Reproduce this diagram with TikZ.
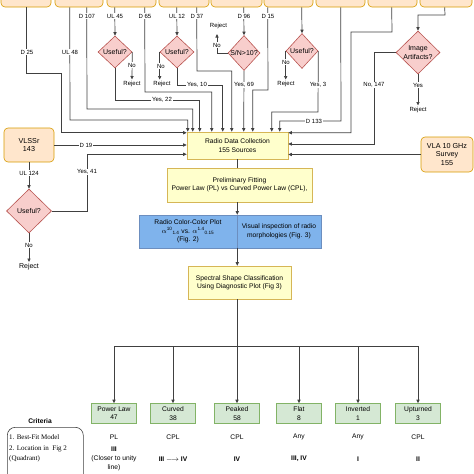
\documentclass[tikz,border=0pt]{standalone}
\usepackage{fontspec}
\setmainfont{Liberation Sans}
\newfontfamily\critfont{Liberation Serif}
\usetikzlibrary{shapes.geometric,arrows.meta}

\definecolor{orfill}{HTML}{FFE6CC}
\definecolor{ordraw}{HTML}{D79B00}
\definecolor{pkfill}{HTML}{F8CECC}
\definecolor{pkdraw}{HTML}{B85450}
\definecolor{ylfill}{HTML}{FFFFCC}
\definecolor{yldraw}{HTML}{D6B656}
\definecolor{blfill}{HTML}{7FB3EC}
\definecolor{bldraw}{HTML}{6C8EBF}
\definecolor{grfill}{HTML}{D5E8D4}
\definecolor{grdraw}{HTML}{82B366}
\definecolor{lncol}{HTML}{404040}

\begin{document}
\begin{tikzpicture}[x=1pt,y=-1pt,
  conn/.style={draw=lncol, line width=0.7pt},
  arr/.style={conn, -{Triangle[length=3.5pt,width=3.2pt]}},
  obox/.style={draw=ordraw, fill=orfill, rounded corners=4pt, line width=0.6pt, minimum height=27pt, inner sep=0pt},
  ovbox/.style={draw=ordraw, fill=orfill, rounded corners=4pt, line width=0.6pt, inner sep=0pt, align=center, font=\fontsize{7.2}{8.7}\selectfont},
  dia/.style={diamond, draw=pkdraw, fill=pkfill, line width=0.6pt, inner sep=0pt},
  dtext/.style={font=\fontsize{7}{8.5}\selectfont, align=center, inner sep=0pt},
  ybox/.style={draw=yldraw, fill=ylfill, line width=0.6pt, inner sep=0pt, align=center, font=\fontsize{6.7}{8.3}\selectfont},
  bbox/.style={draw=bldraw, fill=blfill, line width=0.6pt, inner sep=0pt, align=center, font=\fontsize{6.7}{8.5}\selectfont},
  gbox/.style={draw=grdraw, fill=grfill, line width=0.6pt, inner sep=0pt, align=center, minimum width=45pt, minimum height=20pt, font=\fontsize{6.7}{8.3}\selectfont},
  lbl/.style={fill=white, inner sep=0.8pt, font=\fontsize{6}{7}\selectfont},
  rej/.style={inner sep=1.5pt, font=\fontsize{6}{7}\selectfont},
  ctext/.style={inner sep=0pt, align=center, font=\fontsize{6.7}{9}\selectfont}
]
\useasboundingbox (0,0) rectangle (474,474);
\clip (0,0) rectangle (474,474);

% top source boxes (cut off by the top edge)
\node[obox, minimum width=50pt] (t1) at (26,-6.5) {};
\node[obox, minimum width=48pt] (t2) at (79,-6.5) {};
\node[obox, minimum width=49pt] (t3) at (131.5,-6.5) {};
\node[obox, minimum width=50pt] (t4) at (184,-6.5) {};
\node[obox, minimum width=51pt] (t5) at (236.5,-6.5) {};
\node[obox, minimum width=49pt] (t6) at (288.5,-6.5) {};
\node[obox, minimum width=49pt] (t7) at (340.5,-6.5) {};
\node[obox, minimum width=49pt] (t8) at (392.5,-6.5) {};
\node[obox, minimum width=52pt] (t9) at (446,-6.5) {};

% main boxes
\node[ybox, minimum width=101pt, minimum height=27pt] (rdc) at (237.5,145.5) {Radio Data Collection\\155 Sources};
\node[ovbox, minimum width=50pt, minimum height=34pt] (vlssr) at (29,145) {VLSSr\\143};
\node[ovbox, minimum width=52pt, minimum height=35pt] (vla) at (447,154.5) {VLA 10 GHz\\Survey\\155};
\node[ybox, minimum width=145pt, minimum height=34pt] (prelim) at (239.5,185) {Preliminary Fitting\\Power Law (PL) vs Curved Power Law (CPL),};
\node[bbox, minimum width=98pt, minimum height=33pt] (b1) at (188,231.5) {Radio Color-Color Plot\\$\alpha$\textsuperscript{10}\textsubscript{1.4} vs. $\alpha$\textsuperscript{1.4}\textsubscript{0.15}\\(Fig. 2)};
\node[bbox, minimum width=84pt, minimum height=33pt] (b2) at (279,231.5) {Visual inspection of radio\\morphologies (Fig. 3)};
\node[ybox, minimum width=103pt, minimum height=33pt] (spec) at (239.5,282.5) {Spectral Shape Classification\\Using Diagnostic Plot (Fig 3)};

% diamonds
\node[dia, minimum width=34pt, minimum height=32pt] (d1) at (115,52) {};
\node[dtext] (d1t) at (d1) {Useful?};
\node[dia, minimum width=34pt, minimum height=32pt] (d2) at (177,52) {};
\node[dtext] (d2t) at (d2) {Useful?};
\node[dia, minimum width=32pt, minimum height=35pt] (d3) at (244,53) {};
\node[dtext] (d3t) at (d3) {S/N>10?};
\node[dia, minimum width=32pt, minimum height=35pt] (d4) at (302,51) {};
\node[dtext] (d4t) at (d4) {Useful?};
\node[dia, minimum width=44pt, minimum height=43pt] (d5) at (418,52.5) {};
\node[dtext] (d5t) at (d5) {Image\\Artifacts?};
\node[dia, minimum width=45pt, minimum height=44pt] (d6) at (29,211) {};
\node[dtext] (d6t) at (d6) {Useful?};

% reject nodes
\node[rej] (rj1) at (132,84) {Reject};
\node[rej] (rj2) at (162,84) {Reject};
\node[rej] (rj3) at (218.5,26) {Reject};
\node[rej] (rj4) at (286,84) {Reject};
\node[rej] (rj5) at (418,110) {Reject};
\node[rej, font=\fontsize{7}{8}\selectfont] (rj6) at (29,267) {Reject};

% connectors from the top
\draw[arr] ([xshift=26]t1.south west) |- (61,73) |- ([yshift=-1]rdc.north west);
\draw[arr] ([xshift=15]t2.south west) -- (70,120) -| ([xshift=1]rdc.north west);
\draw[arr] ([xshift=32]t2.south west) -- (87,109) -| ([xshift=6]rdc.north west);
\draw[arr] ([xshift=8]t3.south west) -- (d1.north);
\draw[arr] (d1.south) -- (115,100) -| ([xshift=13]rdc.north west);
\draw[arr] (d1.east) -- (rj1.north);
\draw[arr] ([xshift=38]t3.south west) -- (145,92) -| ([xshift=25]rdc.north west);
\draw[arr] ([xshift=18]t4.south west) -- (d2.north);
\draw[arr] (d2.west) -- (d2.west |- rj2.north);
\draw[arr] (d2.south) -- (177,85) -| ([xshift=36]rdc.north west);
\draw[arr] ([xshift=38]t4.south west) -- (197,71) -| ([xshift=45]rdc.north west);
\draw[arr] ([xshift=33]t5.south west) -- (d3.north);
\draw[arr] (d3.west) -| (217,34);
\draw[arr] (d3.south) -- ([xshift=57]rdc.north west);
\draw[arr] ([xshift=4]t6.south west) -- (268,90) -| ([xshift=66]rdc.north west);
\draw[arr] ([xshift=38]t6.south west) -- (d4.north);
\draw[arr] (d4.west) -- (d4.west |- rj4.north);
\draw[arr] (d4.east) -- (318,112) -| ([xshift=85]rdc.north west);
\draw[arr] ([xshift=25]t7.south west) -- (341,121) -| ([xshift=93]rdc.north west);
\draw[arr] ([xshift=24]t8.south west) -- (392,32) -- (351,32) |- ([yshift=-1]rdc.north east);
\draw[arr] ([xshift=25]t9.south west) -- (445,15) -| (d5.north);
\draw[arr] (d5.west) -- (374,52.5) |- ([yshift=1.5]rdc.east);
\draw[arr] (d5.south) -- (rj5.north);
\draw[arr] (vla.west) -- (vla.west -| rdc.east);

% VLSSr branch
\draw[arr] (vlssr.east) -- (vlssr.east -| rdc.west);
\draw[arr] (vlssr.south) -- (d6.north);
\draw[arr] (d6.east) -- (87,211) |- ([yshift=5]rdc.south west);
\draw[arr] (d6.south) -- (rj6.north);

% main chain
\draw[conn] (rdc.south) -- (rdc.south |- prelim.north);
\draw[arr] (b1.north east |- prelim.south) -- (b1.north east);
\draw[arr] (b1.south east) -- (b1.south east |- spec.north);

% labels on connectors
\node[lbl] (l1) at (27,52) {D 25};
\node[lbl] (l2) at (70,52) {UL 48};
\node[lbl] (l3) at (87,16) {D 107};
\node[lbl] (l4) at (115,16) {UL 45};
\node[lbl] (l5) at (145,16) {D 65};
\node[lbl] (l6) at (177,16) {UL 12};
\node[lbl] (l7) at (197,16) {D 37};
\node[lbl] (l8) at (244,16) {D 96};
\node[lbl] (l9) at (268,16) {D 15};
\node[lbl] (l10) at (162,100) {Yes, 22};
\node[lbl] (l11) at (197,85) {Yes, 10};
\node[lbl] (l12) at (244,85) {Yes, 69};
\node[lbl] (l13) at (318,85) {Yes, 3};
\node[lbl] (l14) at (314,121) {D 133};
\node[lbl] (l15) at (374,85) {No, 147};
\node[lbl] (l16) at (418,85) {Yes};
\node[lbl] (l17) at (132,65) {No};
\node[lbl] (l18) at (161,66) {No};
\node[lbl] (l19) at (217,45) {No};
\node[lbl] (l20) at (286,62) {No};
\node[lbl] (l21) at (86,145) {D 19};
\node[lbl] (l22) at (29,173) {UL 124};
\node[lbl] (l23) at (87,172) {Yes, 41};
\node[lbl] (l24) at (29,245) {No};

% classification tree
\coordinate (bar) at (237,346);
\node[gbox] (g1) at (114,413.5) {Power Law\\47};
\node[gbox] (g2) at (173,413.5) {Curved\\38};
\node[gbox] (g3) at (237,413.5) {Peaked\\58};
\node[gbox] (g4) at (299,413.5) {Flat\\8};
\node[gbox] (g5) at (358,413.5) {Inverted\\1};
\node[gbox] (g6) at (418,413.5) {Upturned\\3};
\draw[conn] (spec.south -| bar) -- (bar);
\draw[conn] (g1.north |- bar) -- (g6.north |- bar);
\foreach \g in {g1,g2,g3,g4,g5,g6}{
  \draw[arr] (\g.north |- bar) -- (\g.north);
}

% rows under categories
\node[ctext] (m1) at (114,437) {PL};
\node[ctext] (m2) at (173,437) {CPL};
\node[ctext] (m3) at (237,437) {CPL};
\node[ctext] (m4) at (299,437) {Any};
\node[ctext] (m5) at (358,437) {Any};
\node[ctext] (m6) at (418,437) {CPL};
\node[ctext] (q1) at (114,459) {\textbf{III}\\(Closer to unity\\line)};
\node[ctext] (q2) at (173,459) {\textbf{III} $\longrightarrow$ \textbf{IV}};
\node[ctext] (q3) at (237,459) {\textbf{IV}};
\node[ctext] (q4) at (299,459) {\textbf{III, IV}};
\node[ctext] (q5) at (358,459) {\textbf{I}};
\node[ctext] (q6) at (418,459) {\textbf{II}};

% criteria
\node[inner sep=0pt, font=\fontsize{6.7}{8}\selectfont\bfseries] (crit) at (40,421) {Criteria};
\node[draw=lncol, line width=0.6pt, rounded corners=8pt, minimum width=76pt, minimum height=80pt, anchor=north west, inner sep=0pt] (cbox) at (7,427) {};
\node[anchor=west, inner sep=0pt, font=\critfont\fontsize{7}{9.5}\selectfont] (c1) at (9,437) {1. Best-Fit Model};
\node[anchor=north west, inner sep=0pt, align=left, font=\critfont\fontsize{7}{9.5}\selectfont] (c2) at (9,446) {2. Location in~ Fig 2\\(Quadrant)};
\end{tikzpicture}
\end{document}
